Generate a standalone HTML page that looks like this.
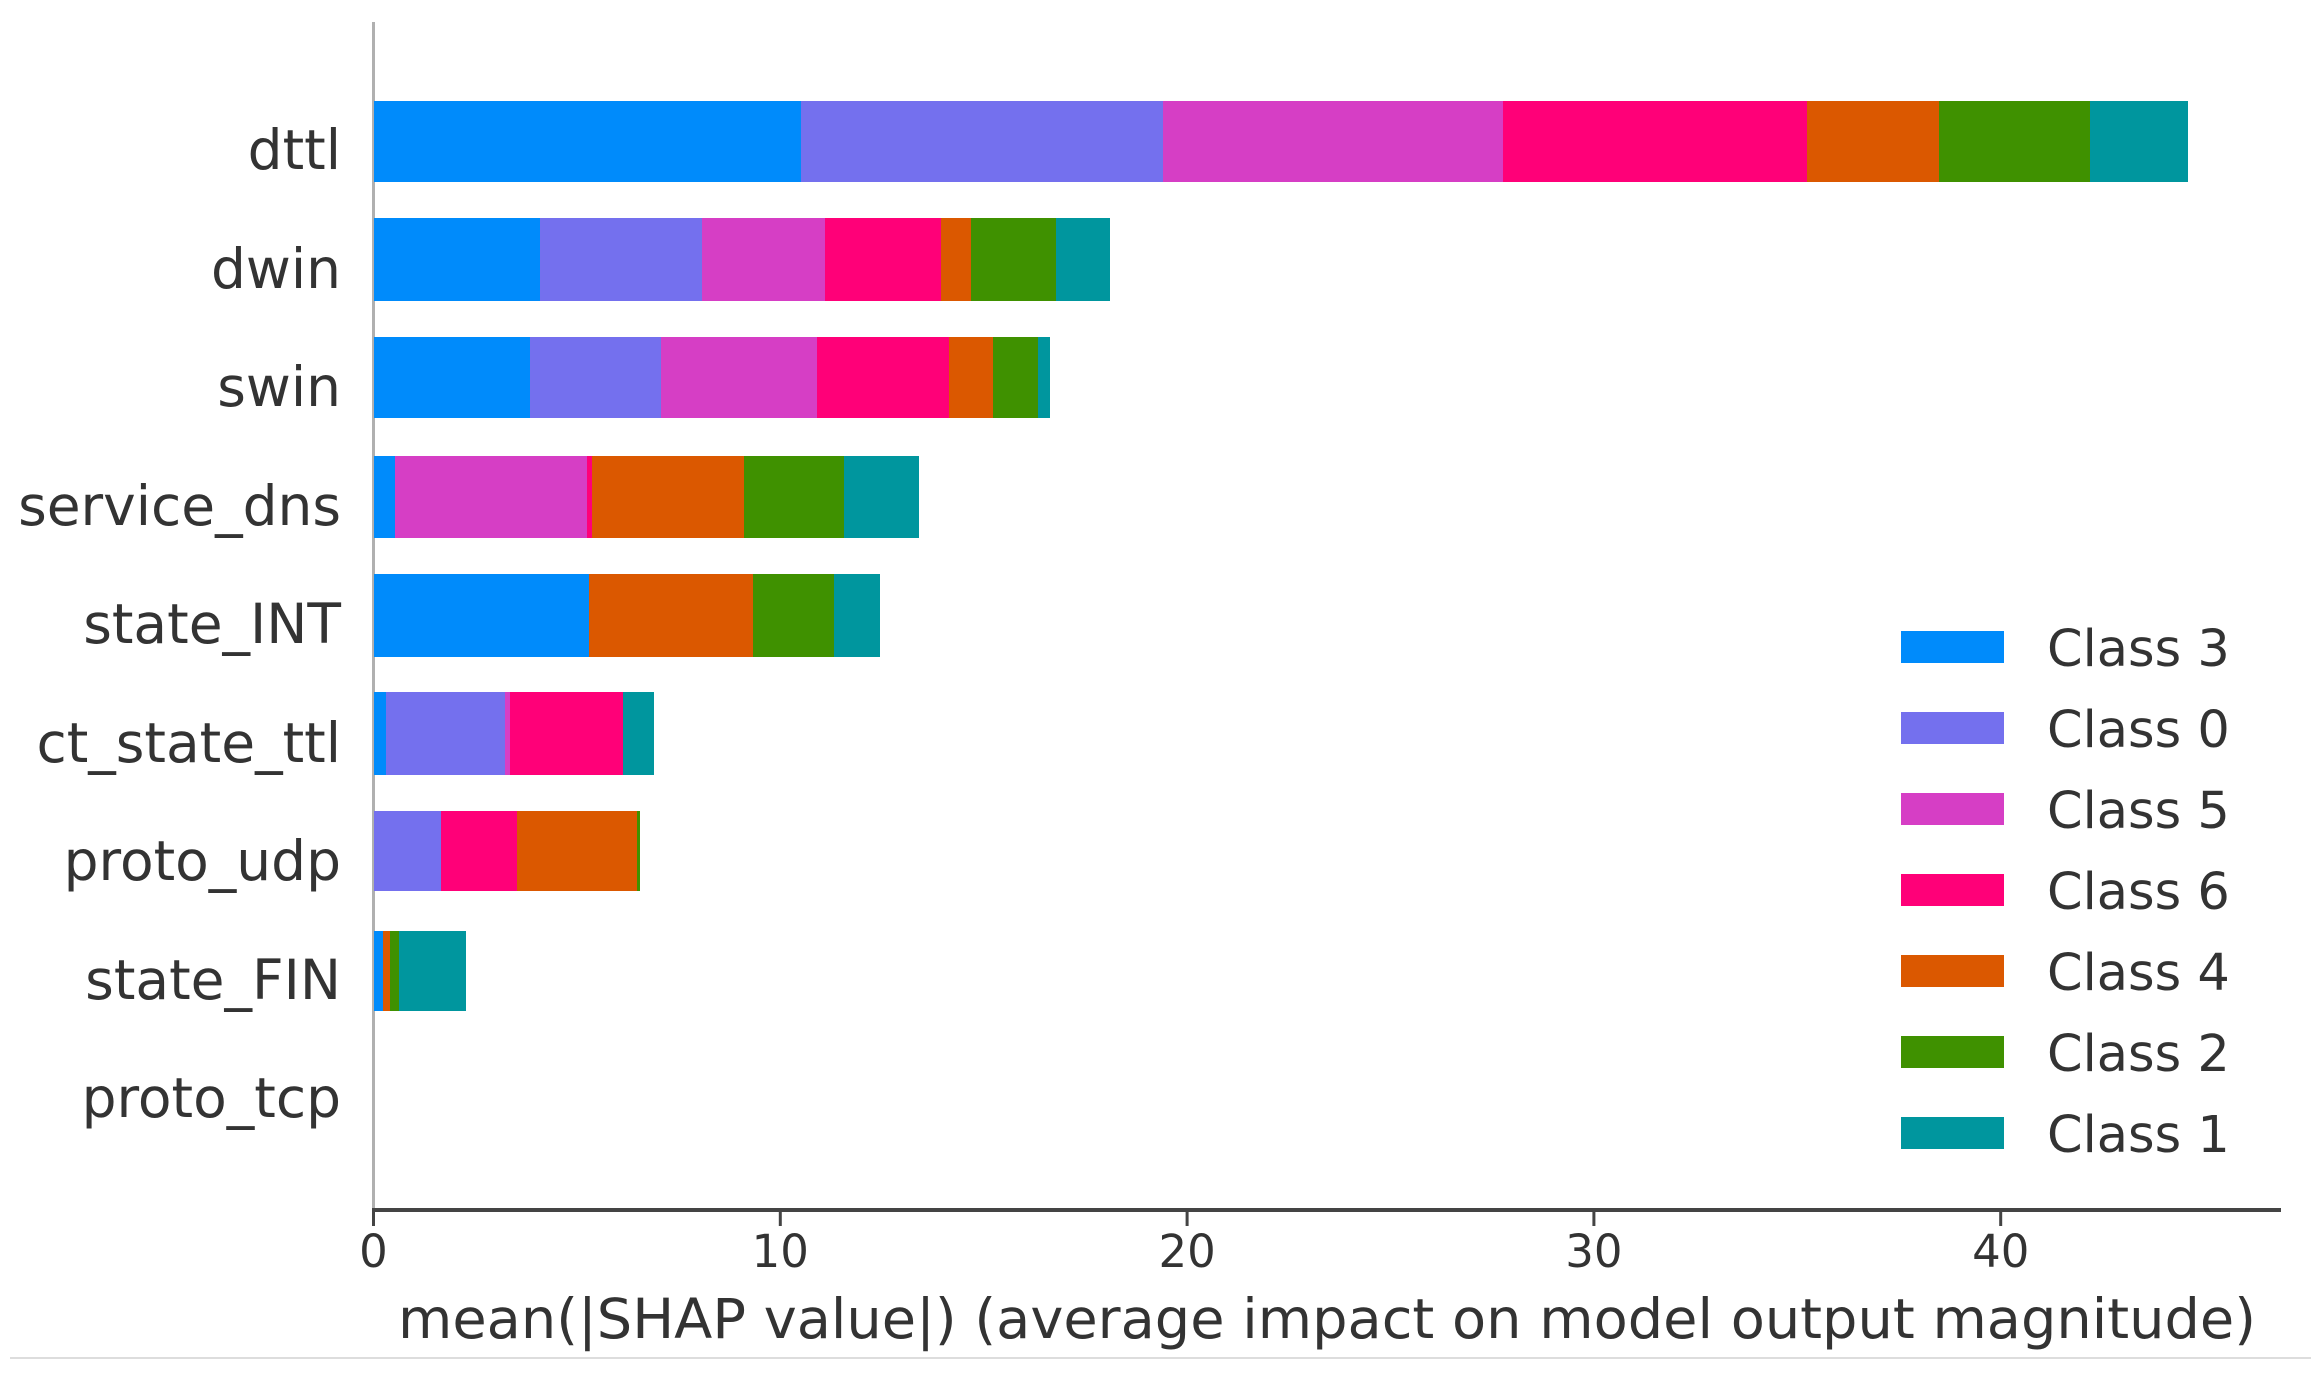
<!DOCTYPE html>
<html>
<head>
<meta charset="utf-8">
<style>
  html, body { margin: 0; padding: 0; background: #ffffff; }
  body { width: 2311px; height: 1380px; overflow: hidden; }
  svg { display: block; }
  text { font-family: "DejaVu Sans", "Liberation Sans", sans-serif; fill: #333333; }
</style>
</head>
<body>
<svg width="2311" height="1380" viewBox="0 0 2311 1380" xmlns="http://www.w3.org/2000/svg">
  <rect x="0" y="0" width="2311" height="1380" fill="#ffffff"/>

  <!-- vertical zero line -->
  <line x1="373.5" y1="22" x2="373.5" y2="1210" stroke="#b0b0b0" stroke-width="3"/>

  <!-- bars: dttl (center 141.5) -->
  <g>
    <rect x="374" y="101" width="427" height="81" fill="#008bfb"/>
    <rect x="801" y="101" width="362" height="81" fill="#7470ee"/>
    <rect x="1163" y="101" width="340" height="81" fill="#d63ec5"/>
    <rect x="1503" y="101" width="304" height="81" fill="#ff0078"/>
    <rect x="1807" y="101" width="132" height="81" fill="#db5800"/>
    <rect x="1939" y="101" width="151" height="81" fill="#3f9100"/>
    <rect x="2090" y="101" width="98" height="81" fill="#00969e"/>
  </g>
  <!-- dwin (center 260) -->
  <g>
    <rect x="374" y="218" width="166" height="83" fill="#008bfb"/>
    <rect x="540" y="218" width="162" height="83" fill="#7470ee"/>
    <rect x="702" y="218" width="123" height="83" fill="#d63ec5"/>
    <rect x="825" y="218" width="116" height="83" fill="#ff0078"/>
    <rect x="941" y="218" width="30" height="83" fill="#db5800"/>
    <rect x="971" y="218" width="85" height="83" fill="#3f9100"/>
    <rect x="1056" y="218" width="54" height="83" fill="#00969e"/>
  </g>
  <!-- swin (center 378.5) -->
  <g>
    <rect x="374" y="337" width="156" height="81" fill="#008bfb"/>
    <rect x="530" y="337" width="131" height="81" fill="#7470ee"/>
    <rect x="661" y="337" width="156" height="81" fill="#d63ec5"/>
    <rect x="817" y="337" width="132" height="81" fill="#ff0078"/>
    <rect x="949" y="337" width="44" height="81" fill="#db5800"/>
    <rect x="993" y="337" width="45" height="81" fill="#3f9100"/>
    <rect x="1038" y="337" width="12" height="81" fill="#00969e"/>
  </g>
  <!-- service_dns (center 497) -->
  <g>
    <rect x="374" y="456" width="21" height="82" fill="#008bfb"/>
    <rect x="395" y="456" width="192" height="82" fill="#d63ec5"/>
    <rect x="587" y="456" width="5" height="82" fill="#ff0078"/>
    <rect x="592" y="456" width="152" height="82" fill="#db5800"/>
    <rect x="744" y="456" width="100" height="82" fill="#3f9100"/>
    <rect x="844" y="456" width="75" height="82" fill="#00969e"/>
  </g>
  <!-- state_INT (center 615.5) -->
  <g>
    <rect x="374" y="574" width="215" height="83" fill="#008bfb"/>
    <rect x="589" y="574" width="164" height="83" fill="#db5800"/>
    <rect x="753" y="574" width="81" height="83" fill="#3f9100"/>
    <rect x="834" y="574" width="46" height="83" fill="#00969e"/>
  </g>
  <!-- ct_state_ttl (center 734) -->
  <g>
    <rect x="374" y="692" width="12" height="83" fill="#008bfb"/>
    <rect x="386" y="692" width="119" height="83" fill="#7470ee"/>
    <rect x="505" y="692" width="5" height="83" fill="#d63ec5"/>
    <rect x="510" y="692" width="113" height="83" fill="#ff0078"/>
    <rect x="623" y="692" width="31" height="83" fill="#00969e"/>
  </g>
  <!-- proto_udp (center 852) -->
  <g>
    <rect x="374" y="811" width="67" height="80" fill="#7470ee"/>
    <rect x="441" y="811" width="76" height="80" fill="#ff0078"/>
    <rect x="517" y="811" width="120" height="80" fill="#db5800"/>
    <rect x="637" y="811" width="3" height="80" fill="#3f9100"/>
  </g>
  <!-- state_FIN (center 971) -->
  <g>
    <rect x="374" y="931" width="9" height="80" fill="#008bfb"/>
    <rect x="383" y="931" width="7" height="80" fill="#db5800"/>
    <rect x="390" y="931" width="9" height="80" fill="#3f9100"/>
    <rect x="399" y="931" width="67" height="80" fill="#00969e"/>
  </g>

  <!-- y tick labels -->
  <g font-size="55" text-anchor="end">
    <text x="341" y="169">dttl</text>
    <text x="341" y="288">dwin</text>
    <text x="341" y="406">swin</text>
    <text x="341" y="525">service_dns</text>
    <text x="341" y="643">state_INT</text>
    <text x="341" y="762">ct_state_ttl</text>
    <text x="341" y="880">proto_udp</text>
    <text x="341" y="999">state_FIN</text>
    <text x="341" y="1117">proto_tcp</text>
  </g>

  <!-- bottom spine and ticks -->
  <line x1="372" y1="1210" x2="2281" y2="1210" stroke="#444444" stroke-width="4"/>
  <g stroke="#444444" stroke-width="3">
    <line x1="373.5" y1="1210" x2="373.5" y2="1226"/>
    <line x1="780.3" y1="1210" x2="780.3" y2="1226"/>
    <line x1="1187.1" y1="1210" x2="1187.1" y2="1226"/>
    <line x1="1593.9" y1="1210" x2="1593.9" y2="1226"/>
    <line x1="2000.7" y1="1210" x2="2000.7" y2="1226"/>
  </g>
  <g font-size="45" text-anchor="middle">
    <text x="373.5" y="1267">0</text>
    <text x="780.3" y="1267">10</text>
    <text x="1187.1" y="1267">20</text>
    <text x="1593.9" y="1267">30</text>
    <text x="2000.7" y="1267">40</text>
  </g>

  <!-- x label -->
  <text x="1327" y="1338" font-size="55" text-anchor="middle" textLength="1858" lengthAdjust="spacingAndGlyphs">mean(|SHAP value|) (average impact on model output magnitude)</text>

  <!-- legend -->
  <g>
    <rect x="1901" y="631" width="103" height="32" fill="#008bfb"/>
    <rect x="1901" y="712" width="103" height="32" fill="#7470ee"/>
    <rect x="1901" y="793" width="103" height="32" fill="#d63ec5"/>
    <rect x="1901" y="874" width="103" height="32" fill="#ff0078"/>
    <rect x="1901" y="955" width="103" height="32" fill="#db5800"/>
    <rect x="1901" y="1036" width="103" height="32" fill="#3f9100"/>
    <rect x="1901" y="1117" width="103" height="32" fill="#00969e"/>
  </g>
  <g font-size="51">
    <text x="2047" y="666">Class 3</text>
    <text x="2047" y="747">Class 0</text>
    <text x="2047" y="828">Class 5</text>
    <text x="2047" y="909">Class 6</text>
    <text x="2047" y="990">Class 4</text>
    <text x="2047" y="1071">Class 2</text>
    <text x="2047" y="1152">Class 1</text>
  </g>

  <!-- faint bottom border line -->
  <line x1="10" y1="1358" x2="2311" y2="1358" stroke="#dddddd" stroke-width="2"/>
</svg>
</body>
</html>
